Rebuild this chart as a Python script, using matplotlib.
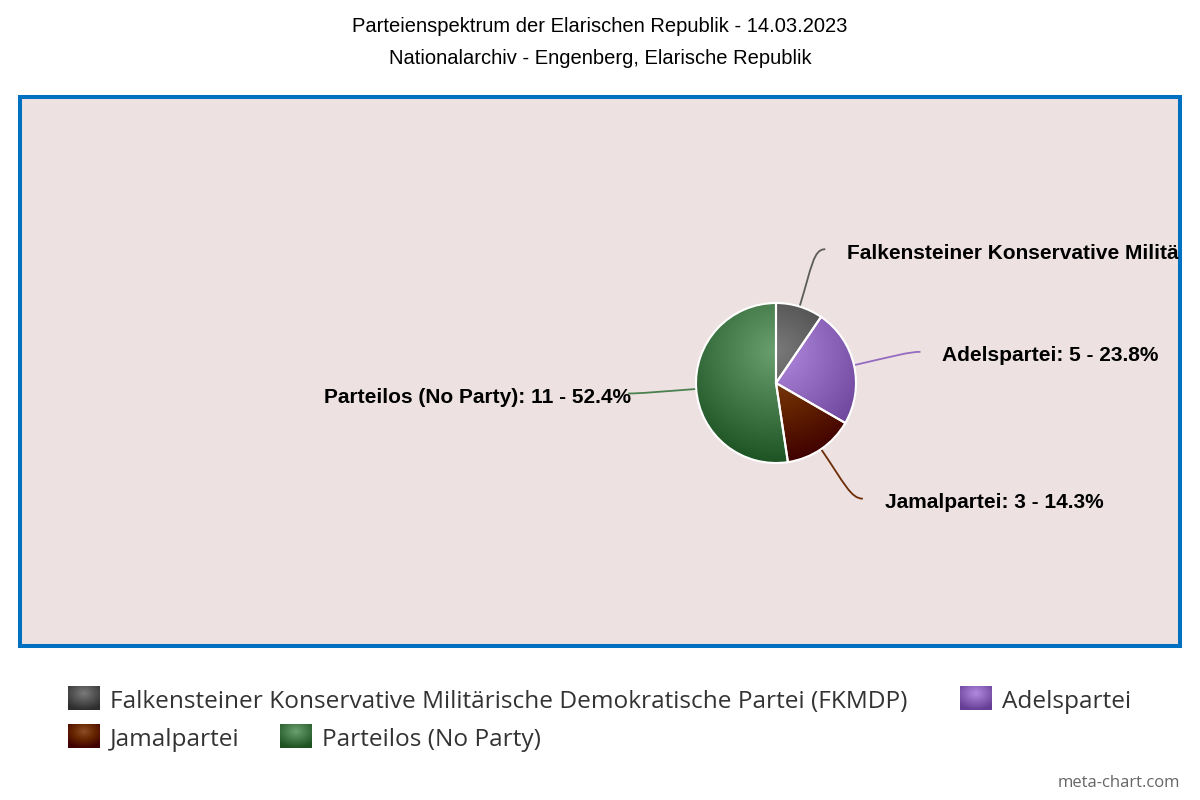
import numpy as np
import matplotlib
matplotlib.use("Agg")
import matplotlib.pyplot as plt
from matplotlib.patches import Rectangle, PathPatch
from matplotlib.path import Path
from matplotlib.transforms import Bbox
import matplotlib.colors as mcolors

title = "Parteienspektrum der Elarischen Republik - 14.03.2023"
subtitle = "Nationalarchiv - Engenberg, Elarische Republik"
parties = ["Falkensteiner Konservative Militärische Demokratische Partei (FKMDP)",
           "Adelspartei", "Jamalpartei", "Parteilos (No Party)"]
members = [2, 5, 3, 11]
colors = ["#7a7a7a", "#b28ae0", "#8c4c26", "#6aa070"]

W, H = 1200, 800
cx, cy, R = 776, 383, 80


def gradient_rgb(base, n=200):
    # radial gradient like the web chart: base colour at (0.5, 0.3), darker to the edge
    rgb = np.array(mcolors.to_rgb(base))
    xs = np.linspace(0, 1, n)
    gx, gy = np.meshgrid(xs, xs)
    d = np.sqrt((gx - 0.5) ** 2 + (gy - 0.3) ** 2) / 0.7
    d = np.clip(d, 0, 1)
    img = rgb[None, None, :] - 0.3 * d[..., None]
    return np.clip(img, 0, 1)


fig = plt.figure(figsize=(12, 8), dpi=100)
ax = fig.add_axes([0, 0, 1, 1])

px, py, pw, ph = 20, 97, 1160, 549
panel = Rectangle((px, py), pw, ph, facecolor="#ede1e1", edgecolor="#0070c0",
                  lw=2.9, zorder=0)
ax.add_patch(panel)
# clip box in display pixels (figure is 1200x800 at dpi 100)
panel_clip = Bbox([[px, H - (py + ph)], [px + pw, H - py]])

wedges, _ = ax.pie(members, center=(cx, cy), radius=R, startangle=-90, counterclock=True,
                   colors=colors, frame=True,
                   wedgeprops=dict(edgecolor="white", linewidth=1.5))
ax.set_xlim(0, W)
ax.set_ylim(H, 0)
ax.axis("off")

total = sum(members)
for w, col, name, val in zip(wedges, colors, parties, members):
    im = ax.imshow(gradient_rgb(col), extent=(cx - R, cx + R, cy + R, cy - R),
                   origin="upper", interpolation="bilinear", zorder=2)
    im.set_clip_path(w)
    w.set_facecolor("none")
    w.set_zorder(3)

    tm = np.deg2rad((w.theta1 + w.theta2) / 2)
    d = np.array([np.cos(tm), np.sin(tm)])
    side = 1 if d[0] >= 0 else -1
    p0 = np.array([cx, cy]) + R * d
    p1 = np.array([cx, cy]) + (R + 42) * d
    p3 = np.array([cx, cy]) + 140 * d + np.array([8 * side, 0])
    p2 = p3 - np.array([12 * side, 0])
    dark = np.clip(np.array(mcolors.to_rgb(col)) - 0.12, 0, 1)
    path = Path([p0, p1, p2, p3], [Path.MOVETO, Path.CURVE4, Path.CURVE4, Path.CURVE4])
    ax.add_patch(PathPatch(path, facecolor="none", edgecolor=dark, lw=1.3, zorder=1))

    label = f"{name}: {val} - {val / total * 100:.1f}%"
    if side > 0:
        t = ax.text(p3[0] + 22, p3[1] + 4, label, ha="left", va="center",
                    fontsize=15, fontweight="bold", family="Liberation Sans", zorder=4)
    else:
        t = ax.text(p3[0] + 3, p3[1] + 4, label, ha="right", va="center",
                    fontsize=15, fontweight="bold", family="Liberation Sans", zorder=4)
    t.set_clip_path(None)
    t.set_clip_box(panel_clip)
    t.set_clip_on(True)

# titles
ax.text(600, 26, title, ha="center", va="center", fontsize=14.5, family="Liberation Sans")
ax.text(600, 59, subtitle, ha="center", va="center", fontsize=14.5, family="Liberation Sans")

# legend
leg_x = [68, 960, 68, 280]
leg_y = [686, 686, 724, 724]
for name, col, lx, ly in zip(parties, colors, leg_x, leg_y):
    ax.imshow(gradient_rgb(col), extent=(lx, lx + 32, ly + 24, ly),
              origin="upper", interpolation="bilinear", zorder=2)
    ax.text(lx + 42, ly + 13, name, ha="left", va="center_baseline", fontsize=17.6,
            family="Open Sans", color="#333333")

ax.text(1180, 783, "meta-chart.com", ha="right", va="center", fontsize=12,
        family="Open Sans", color="#666666")

ax.set_xlim(0, W)
ax.set_ylim(H, 0)
fig.savefig("out.png", dpi=100, facecolor="white")
